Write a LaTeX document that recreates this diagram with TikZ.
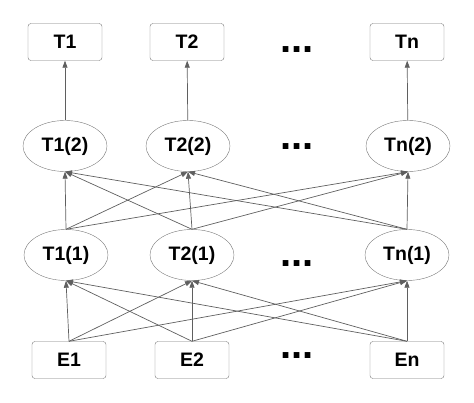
\documentclass[tikz,border=0pt]{standalone}
\usepackage{fontspec}
\setmainfont{Liberation Sans}
\usetikzlibrary{arrows.meta, shapes.geometric}
\definecolor{edgeGray}{RGB}{95,95,95}
\definecolor{lineGray}{RGB}{120,120,120}
\tikzset{
  outbox/.style={draw=lineGray, rounded corners=3pt, minimum width=74pt, minimum height=37pt, font=\fontsize{19.5}{22}\selectfont\bfseries},
  hidden/.style={draw=lineGray, ellipse, minimum width=84pt, minimum height=51pt, inner sep=0pt, font=\fontsize{19.5}{22}\selectfont\bfseries},
  dotsnode/.style={font=\fontsize{40}{40}\selectfont\bfseries, inner sep=0pt},
  link/.style={draw=edgeGray, line width=0.7pt, -{Triangle[length=7pt, width=5pt]}}
}
\begin{document}
\begin{tikzpicture}[x=1pt, y=-1pt]
  \useasboundingbox (0,0) rectangle (474,403);

  % outputs
  \node[outbox] (t1) at (65,42) {T1};
  \node[outbox] (t2) at (187,42) {T2};
  \node[outbox] (tn) at (407,42) {Tn};
  \node[dotsnode] (dtop) at (297,50) {...};

  % second layer
  \node[hidden] (t12) at (65,146) {T1(2)};
  \node[hidden] (t22) at (188,146) {T2(2)};
  \node[hidden] (tn2) at (408,146) {Tn(2)};
  \node[dotsnode] (d2) at (297,147) {...};

  % first layer
  \node[hidden] (t11) at (66,255) {T1(1)};
  \node[hidden] (t21) at (192,255) {T2(1)};
  \node[hidden] (tn1) at (407,255) {Tn(1)};
  \node[dotsnode] (d1) at (297,264) {...};

  % inputs
  \node[outbox] (e1) at (69,360) {E1};
  \node[outbox] (e2) at (192,360) {E2};
  \node[outbox] (en) at (407,360) {En};
  \node[dotsnode] (dbot) at (297,356) {...};

  \draw[link] (t12) -- (t1);
  \draw[link] (t22) -- (t2);
  \draw[link] (tn2) -- (tn);

  \foreach \a in {t11, t21, tn1}
    \foreach \b in {t12, t22, tn2}
      \draw[link] (\a.north) -- (\b.south);

  \foreach \a in {e1, e2, en}
    \foreach \b in {t11, t21, tn1}
      \draw[link] (\a.north) -- (\b.south);
\end{tikzpicture}
\end{document}
